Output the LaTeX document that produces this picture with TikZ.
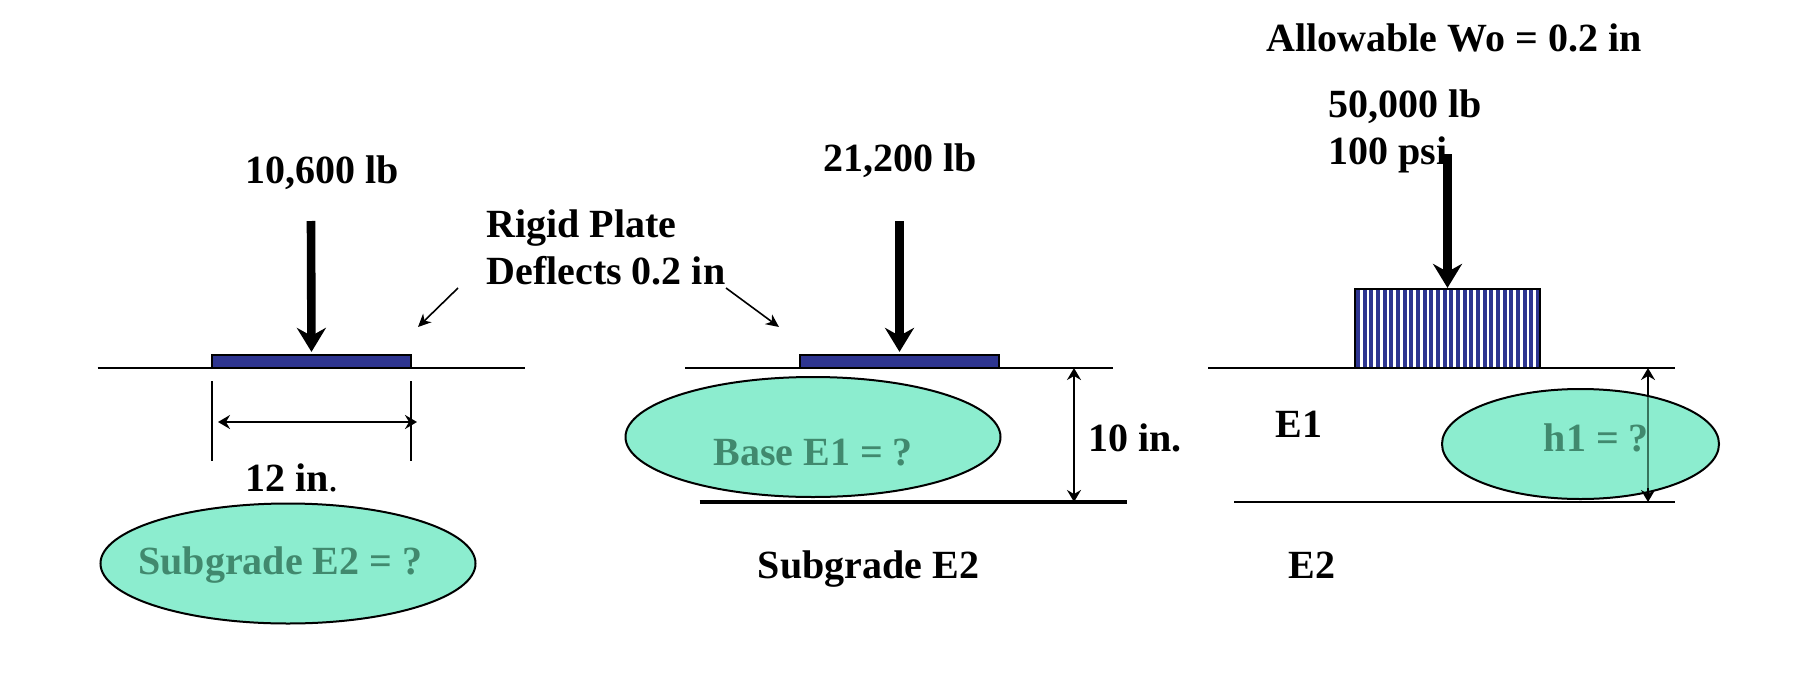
\documentclass[tikz,border=0pt]{standalone}
\usepackage{fontspec}
\setmainfont{Liberation Serif}
\usetikzlibrary{arrows.meta,shapes.geometric}
\definecolor{plateblue}{RGB}{46,53,144}
\definecolor{mint}{RGB}{140,237,207}
\definecolor{dimtext}{RGB}{65,137,110}
\tikzset{
  lbl/.style={anchor=base west,inner sep=0pt,font=\fontsize{20pt}{24pt}\selectfont\bfseries,text=black},
  inblob/.style={lbl,text=dimtext},
  ground/.style={line width=1.1pt,black},
  plate/.style={draw=black,line width=1.1pt,fill=plateblue,minimum width=99.5pt,minimum height=6.5pt,inner sep=0pt},
  load/.style={line width=4.3pt,-{Stealth[length=12pt,width=14.5pt,inset=4pt]}},
  dim/.style={line width=.9pt,{Stealth[length=6pt,width=7pt,inset=2pt]}-{Stealth[length=6pt,width=7pt,inset=2pt]}},
  leader/.style={line width=.8pt,-{Stealth[length=6.5pt,width=6pt,inset=2pt]}},
  blob/.style={ellipse,draw=black,line width=1pt,fill=mint,inner sep=0pt},
}
\begin{document}
\begin{tikzpicture}[x=.5pt,y=-.5pt]
\useasboundingbox (0,0) rectangle (1798,696);
% panel 1
\draw[ground] (97.5,368) coordinate (g1a) -- (525,368) coordinate (g1b);
\node[plate] (p1) at (311.5,361.5) {};
\coordinate (l1) at (311,221);
\draw[load,shorten >=1pt] (l1) -- (p1.north);
\node[lbl] (t1) at (245,183) {10,600 lb};
\coordinate (ta) at (212,381); \coordinate (tb) at (212,461);
\coordinate (tc) at (411,381); \coordinate (td) at (411,461);
\draw[ground] (ta) -- (tb);
\draw[ground] (tc) -- (td);
\coordinate (da) at (218,422); \coordinate (db) at (417,422);
\draw[dim] (da) -- (db);
\node[lbl] (t2) at (245,491) {12 in\textmd{.}};
\node[blob,minimum width=187.5pt,minimum height=60pt] (e1) at (288,563.5) {};
\node[inblob] (t3) at (138,574) {Subgrade E2 = ?};
% callout
\node[lbl] (t4) at (486,237) {Rigid Plate};
\node[lbl] (t5) at (486,284) {Deflects 0.2 in};
\coordinate (la) at (458,288); \coordinate (lb) at (418,327);
\coordinate (lc) at (726,288); \coordinate (ld) at (779,327);
\draw[leader] (la) -- (lb);
\draw[leader] (lc) -- (ld);
% panel 2
\draw[ground] (685,368) -- (1113,368);
\node[plate] (p2) at (899.5,361.5) {};
\coordinate (l2) at (899.5,221);
\draw[load,shorten >=1pt] (l2) -- (p2.north);
\node[lbl] (t6) at (823,171) {21,200 lb};
\draw[line width=2.1pt] (699.5,502) coordinate (g2a) -- (1127,502) coordinate (g2b);
\coordinate (d2a) at (1074,368); \coordinate (d2b) at (1074,502);
\draw[dim] (d2a) -- (d2b);
\node[lbl] (t7) at (1088,451) {10 in.};
\node[blob,minimum width=187.5pt,minimum height=60pt] (e2) at (813,437) {};
\node[inblob] (t8) at (713,465) {Base E1 = ?};
\node[lbl] (t9) at (757.5,578) {Subgrade E2};
% panel 3
\draw[ground] (1208,368) -- (1675,368);
\draw[ground] (1234,502) -- (1675,502);
\node[lbl] (t10) at (1266,51) {Allowable Wo = 0.2 in};
\node[lbl] (t11) at (1328,117) {50,000 lb};
\node[lbl] (t12) at (1328,164) {100 psi};
\node[draw=black,line width=1.1pt,fill=white,minimum width=92.5pt,minimum height=39.5pt,inner sep=0pt] (b3) at (1447.5,328.5) {};
\foreach \i in {0,...,27} \fill[plateblue] ({1356+\i*6.67},289) rectangle ++(4,79);
\node[draw=black,line width=1.1pt,minimum width=92.5pt,minimum height=39.5pt,inner sep=0pt] (b3o) at (1447.5,328.5) {};
\coordinate (l3) at (1447.5,154);
\draw[load] (l3) -- (b3.north);
\node[lbl] (t13) at (1275,437) {E1};
\node[lbl] (t14) at (1288,578) {E2};
\node[blob,minimum width=138.5pt,minimum height=55pt] (e3) at (1580.5,444) {};
\node[inblob] (t15) at (1543.5,451) {h1 = ?};
\coordinate (d3a) at (1648,368); \coordinate (d3b) at (1648,502);
\coordinate (d3c) at (1648,396.5); \coordinate (d3d) at (1648,488);
\draw[dim] (d3a) -- (d3b);
\draw[line width=1pt,draw=dimtext!85!black] (d3c) -- (d3d);
\end{tikzpicture}
\end{document}
